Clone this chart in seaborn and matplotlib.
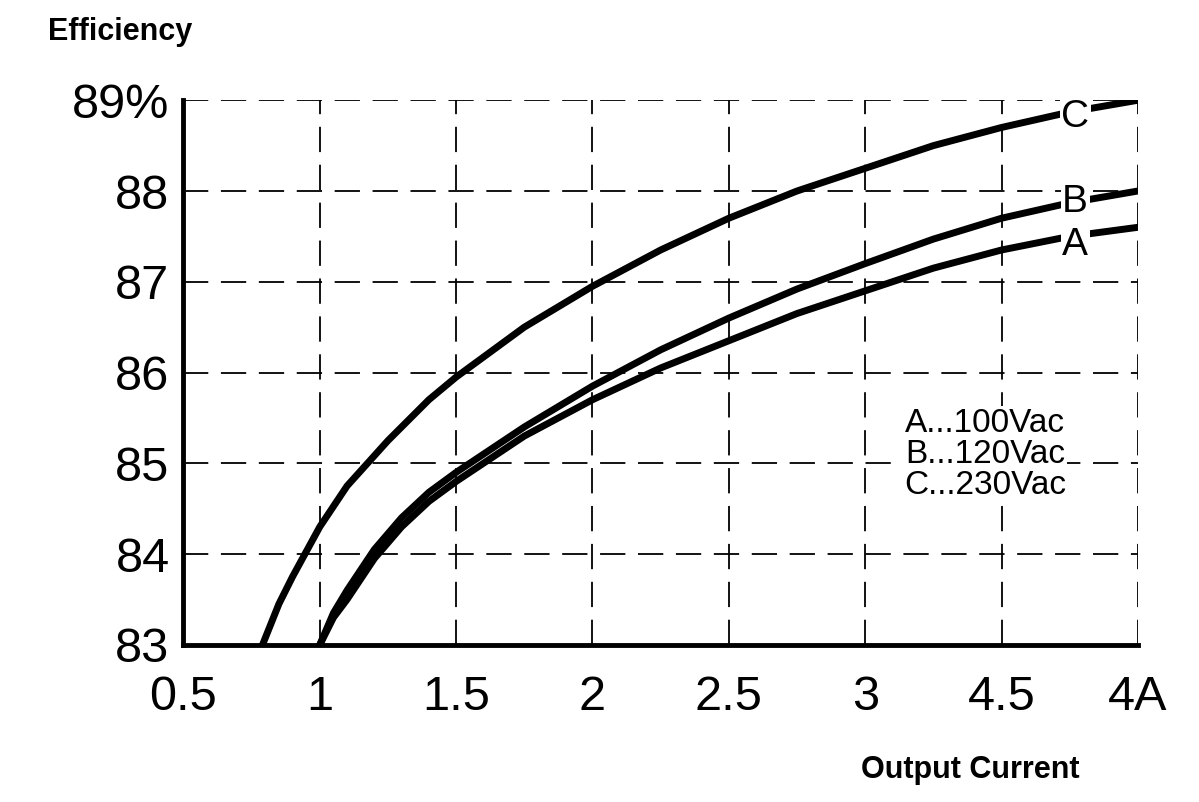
import matplotlib.pyplot as plt
import seaborn as sns
import pandas as pd

# x in "output current" units, 4.0 = "4A" end of the axis
x_c = [0.79, 0.85, 0.9, 1.0, 1.1, 1.25, 1.4, 1.5, 1.75, 2.0, 2.25, 2.5, 2.75, 3.0, 3.25, 3.5, 3.75, 4.0]
eff_c = [83.0, 83.45, 83.75, 84.3, 84.75, 85.25, 85.7, 85.95, 86.5, 86.95, 87.35, 87.7, 88.0, 88.25, 88.5, 88.7, 88.87, 89.0]
x_b = [1.0, 1.05, 1.1, 1.2, 1.3, 1.4, 1.5, 1.75, 2.0, 2.25, 2.5, 2.75, 3.0, 3.25, 3.5, 3.75, 4.0]
eff_b = [83.0, 83.35, 83.6, 84.05, 84.4, 84.68, 84.9, 85.4, 85.85, 86.25, 86.6, 86.92, 87.2, 87.47, 87.7, 87.87, 88.0]
x_a = [1.0, 1.05, 1.1, 1.2, 1.3, 1.4, 1.5, 1.75, 2.0, 2.25, 2.5, 2.75, 3.0, 3.25, 3.5, 3.75, 4.0]
eff_a = [83.0, 83.3, 83.5, 83.95, 84.3, 84.58, 84.8, 85.3, 85.7, 86.05, 86.35, 86.65, 86.9, 87.15, 87.35, 87.5, 87.6]

x_ticks = [0.5, 1.0, 1.5, 2.0, 2.5, 3.0, 3.5, 4.0]
x_labels = ['0.5', '1', '1.5', '2', '2.5', '3', '4.5', '4A']
y_ticks = [83, 84, 85, 86, 87, 88, 89]
y_labels = ['83', '84', '85', '86', '87', '88', '89%']

sns.set_style('white')
plt.rcParams['font.family'] = ['Liberation Sans', 'DejaVu Sans']
plt.rcParams['text.color'] = 'black'
plt.rcParams['xtick.color'] = 'black'
plt.rcParams['ytick.color'] = 'black'

fig = plt.figure(figsize=(11.99, 8.02), dpi=100)
ax = fig.add_axes([0.153, 0.196, 0.796, 0.679])

df = pd.concat([
    pd.DataFrame({'x': x_a, 'y': eff_a, 's': 'A'}),
    pd.DataFrame({'x': x_b, 'y': eff_b, 's': 'B'}),
    pd.DataFrame({'x': x_c, 'y': eff_c, 's': 'C'}),
])
sns.lineplot(data=df, x='x', y='y', units='s', estimator=None, color='black',
             linewidth=5, ax=ax, sort=True, zorder=3, solid_joinstyle='round')

# curve labels sit on the curves with a white box breaking the line
for lbl, xx, yy in [('C', 3.77, 88.82), ('B', 3.77, 87.88), ('A', 3.77, 87.4)]:
    ax.text(xx, yy, lbl, fontsize=28, ha='center', va='center', zorder=4,
            bbox=dict(facecolor='white', edgecolor='none', pad=1))

ax.set_xlim(0.5, 4.0)
ax.set_ylim(83, 89)
ax.set_xticks(x_ticks)
ax.set_xticklabels(x_labels, fontsize=35)
ax.set_yticks(y_ticks)
ax.set_yticklabels(y_labels, fontsize=35)
ax.tick_params(axis='x', direction='out', length=22, width=3, pad=0)
ax.tick_params(axis='y', direction='out', length=8, width=3, pad=2)
ax.grid(True, color='black', linestyle=(0, (14, 7)), linewidth=1.3)
for side in ['top', 'right']:
    ax.spines[side].set_visible(False)
for side in ['left', 'bottom']:
    ax.spines[side].set_linewidth(3.5)
    ax.spines[side].set_color('black')
ax.set_xlabel('')
ax.set_ylabel('')

ax.text(0.84, 0.35, 'A...100Vac\nB...120Vac\nC...230Vac', transform=ax.transAxes,
        fontsize=24, ha='center', va='center', linespacing=1.0, zorder=4,
        bbox=dict(facecolor='white', edgecolor='none', pad=1))

fig.text(0.04, 0.96, 'Efficiency', fontsize=22, fontweight='bold', ha='left', va='center')
fig.text(0.9, 0.04, 'Output Current', fontsize=22, fontweight='bold', ha='right', va='center')

fig.savefig('out.png', dpi=100)
